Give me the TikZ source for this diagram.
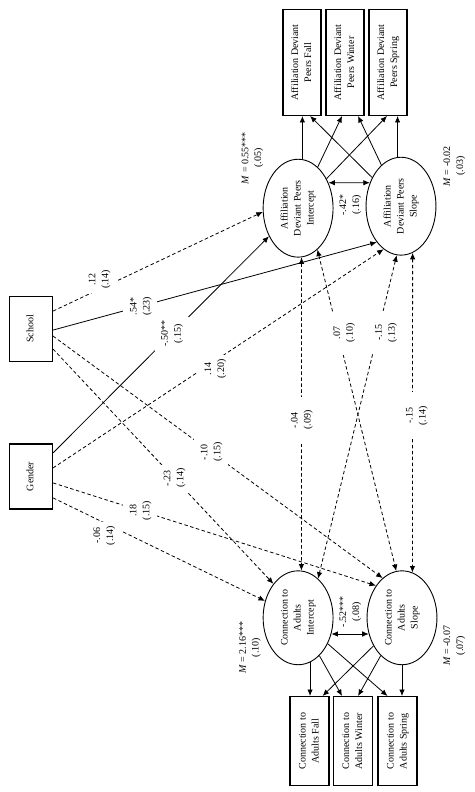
\documentclass[tikz,border=0pt]{standalone}
\usepackage{fontspec}
\setmainfont{Liberation Serif}
\usepackage{graphicx}
\usetikzlibrary{shapes.geometric,arrows.meta}
\newcommand{\uptext}[1]{\rotatebox{90}{\begin{tabular}{@{}c@{}}#1\end{tabular}}}
\tikzset{
  obs/.style={draw, line width=1.4pt, inner sep=0pt},
  apbox/.style={obs, minimum width=38pt, minimum height=106pt},
  cabox/.style={obs, minimum width=39pt, minimum height=89pt},
  xbox/.style={obs, minimum width=43pt, minimum height=65pt},
  lat/.style={draw, ellipse, line width=0.9pt, minimum width=70pt, inner sep=0pt},
  est/.style={fill=white, inner sep=4pt},
  dsh/.style={dash pattern=on 3.5pt off 2.5pt},
}
\begin{document}
\begin{tikzpicture}[x=1pt, y=-1pt, >={Latex[length=6.5pt,width=5.5pt]}, line width=0.8pt, font=\fontsize{10}{13}\selectfont]
        \draw[white] (0,0) rectangle (474,792);
        % covariates
        \node[xbox] (school) at (30.5,329) {\uptext{School}};
        \node[xbox] (gender) at (30.5,476.5) {\uptext{Gender}};
        % indicators
        \node[apbox] (ap1) at (302,62) {\uptext{Affiliation Deviant\\Peers Fall}};
        \node[apbox] (ap2) at (345,62) {\uptext{Affiliation Deviant\\Peers Winter}};
        \node[apbox] (ap3) at (388,62) {\uptext{Affiliation Deviant\\Peers Spring}};
        \node[cabox] (ca1) at (309.5,741.5) {\uptext{Connection to\\Adults Fall}};
        \node[cabox] (ca2) at (353,741.5) {\uptext{Connection to\\Adults Winter}};
        \node[cabox] (ca3) at (397.5,741.5) {\uptext{Connection to\\Adults Spring}};
        % growth factors
        \node[lat, minimum height=98pt] (aint) at (298,208) {\uptext{Affiliation\\Deviant Peers\\Intercept}};
        \node[lat, minimum height=98pt] (aslp) at (401,206) {\uptext{Affiliation\\Deviant Peers\\Slope}};
        \node[lat, minimum height=94pt] (cint) at (298,618) {\uptext{Connection to\\Adults\\Intercept}};
        \node[lat, minimum height=94pt] (cslp) at (402,618) {\uptext{Connection to\\Adults\\Slope}};
        \node (maint) at (252,158) {\uptext{\textit{M} = 0.55***\\(.05)}};
        \node (maslp) at (454,166) {\uptext{\textit{M} = -0.02\\(.03)}};
        \node (mcint) at (249.5,648) {\uptext{\textit{M} = 2.16***\\(.10)}};
        \node (mcslp) at (454,646) {\uptext{\textit{M} = -0.07\\(.07)}};
        \node (kaff) at (350,205) {\uptext{-.42*\\(.16)}};
        \node (kcon) at (350,612) {\uptext{-.52***\\(.08)}};
        % loadings
        \draw[->] (aint.85) -- (aint.85 |- ap1.south);
        \draw[->] (aint) -- ([xshift=-3pt]ap2.south);
        \draw[->] (aint) -- ([xshift=-1pt]ap3.south);
        \draw[->] (aslp) -- ([xshift=8pt]ap1.south);
        \draw[->] (aslp) -- ([xshift=13pt]ap2.south);
        \draw[->] (aslp.94) -- (aslp.94 |- ap3.south);
        \draw[->] (cint.285) -- (cint.285 |- ca1.north);
        \draw[->] (cint) -- ([xshift=-11pt]ca2.north);
        \draw[->] (cint) -- ([xshift=-10pt]ca3.north);
        \draw[->] (cslp) -- ([xshift=13pt]ca1.north);
        \draw[->] (cslp) -- ([xshift=5pt]ca2.north);
        \draw[->] (cslp.south) -- (cslp.south |- ca3.north);
        % factor covariances
        \draw[<->] (aint.40) -- (aslp.143);
        \draw[<->] (cint.334) -- (cslp.206);
        \draw[<->, dsh] (aint.274) -- node[est, pos=0.52, inner ysep=14pt] (c1) {\uptext{-.04\\(.09)}} (cint.86);
        \draw[<->, dsh] (aslp.284) -- node[est, pos=0.51, xshift=4pt, inner ysep=14pt] (c2) {\uptext{-.15\\(.14)}} (cslp.77);
        \draw[<->, dsh] (aint.295) -- node[est, pos=0.26, xshift=6pt, inner ysep=12pt] (c3) {\uptext{.07\\(.10)}} (cslp.97);
        \draw[<->, dsh] (aslp.265) -- node[est, pos=0.24, xshift=8pt, inner ysep=12pt] (c4) {\uptext{-.15\\(.13)}} (cint.63);
        % regressions on covariates
        \draw[->, dsh] ([yshift=18pt]school.east) -- node[est, pos=0.22, yshift=10pt] (r1) {\uptext{.12\\(.14)}} (aint.186);
        \draw[->] ([yshift=-1pt]school.east) -- node[est, pos=0.27] (r2) {\uptext{.54*\\(.23)}} (aslp.236);
        \draw[->, dsh] ([yshift=-7pt]school.east) -- node[est, pos=0.48] (r3) {\uptext{-.10\\(.15)}} (cslp.116);
        \draw[->, dsh] ([yshift=-20pt]school.east) -- node[est, pos=0.55] (r4) {\uptext{-.23\\(.14)}} (cint.126);
        \draw[->] ([yshift=23.5pt]gender.east) -- node[est, pos=0.55] (r5) {\uptext{-.50**\\(.15)}} (aint.224);
        \draw[->, dsh] ([yshift=8.5pt]gender.east) -- node[est, pos=0.49, yshift=-8pt] (r6) {\uptext{.14\\(.20)}} (aslp.248);
        \draw[->, dsh] ([yshift=-6.5pt]gender.east) -- node[est, pos=0.27] (r7) {\uptext{.18\\(.15)}} (cslp.129);
        \draw[->, dsh] ([yshift=-21.5pt]gender.east) -- node[est, pos=0.24, yshift=-13pt] (r8) {\uptext{-.06\\(.14)}} (cint.153);
\end{tikzpicture}
\end{document}
